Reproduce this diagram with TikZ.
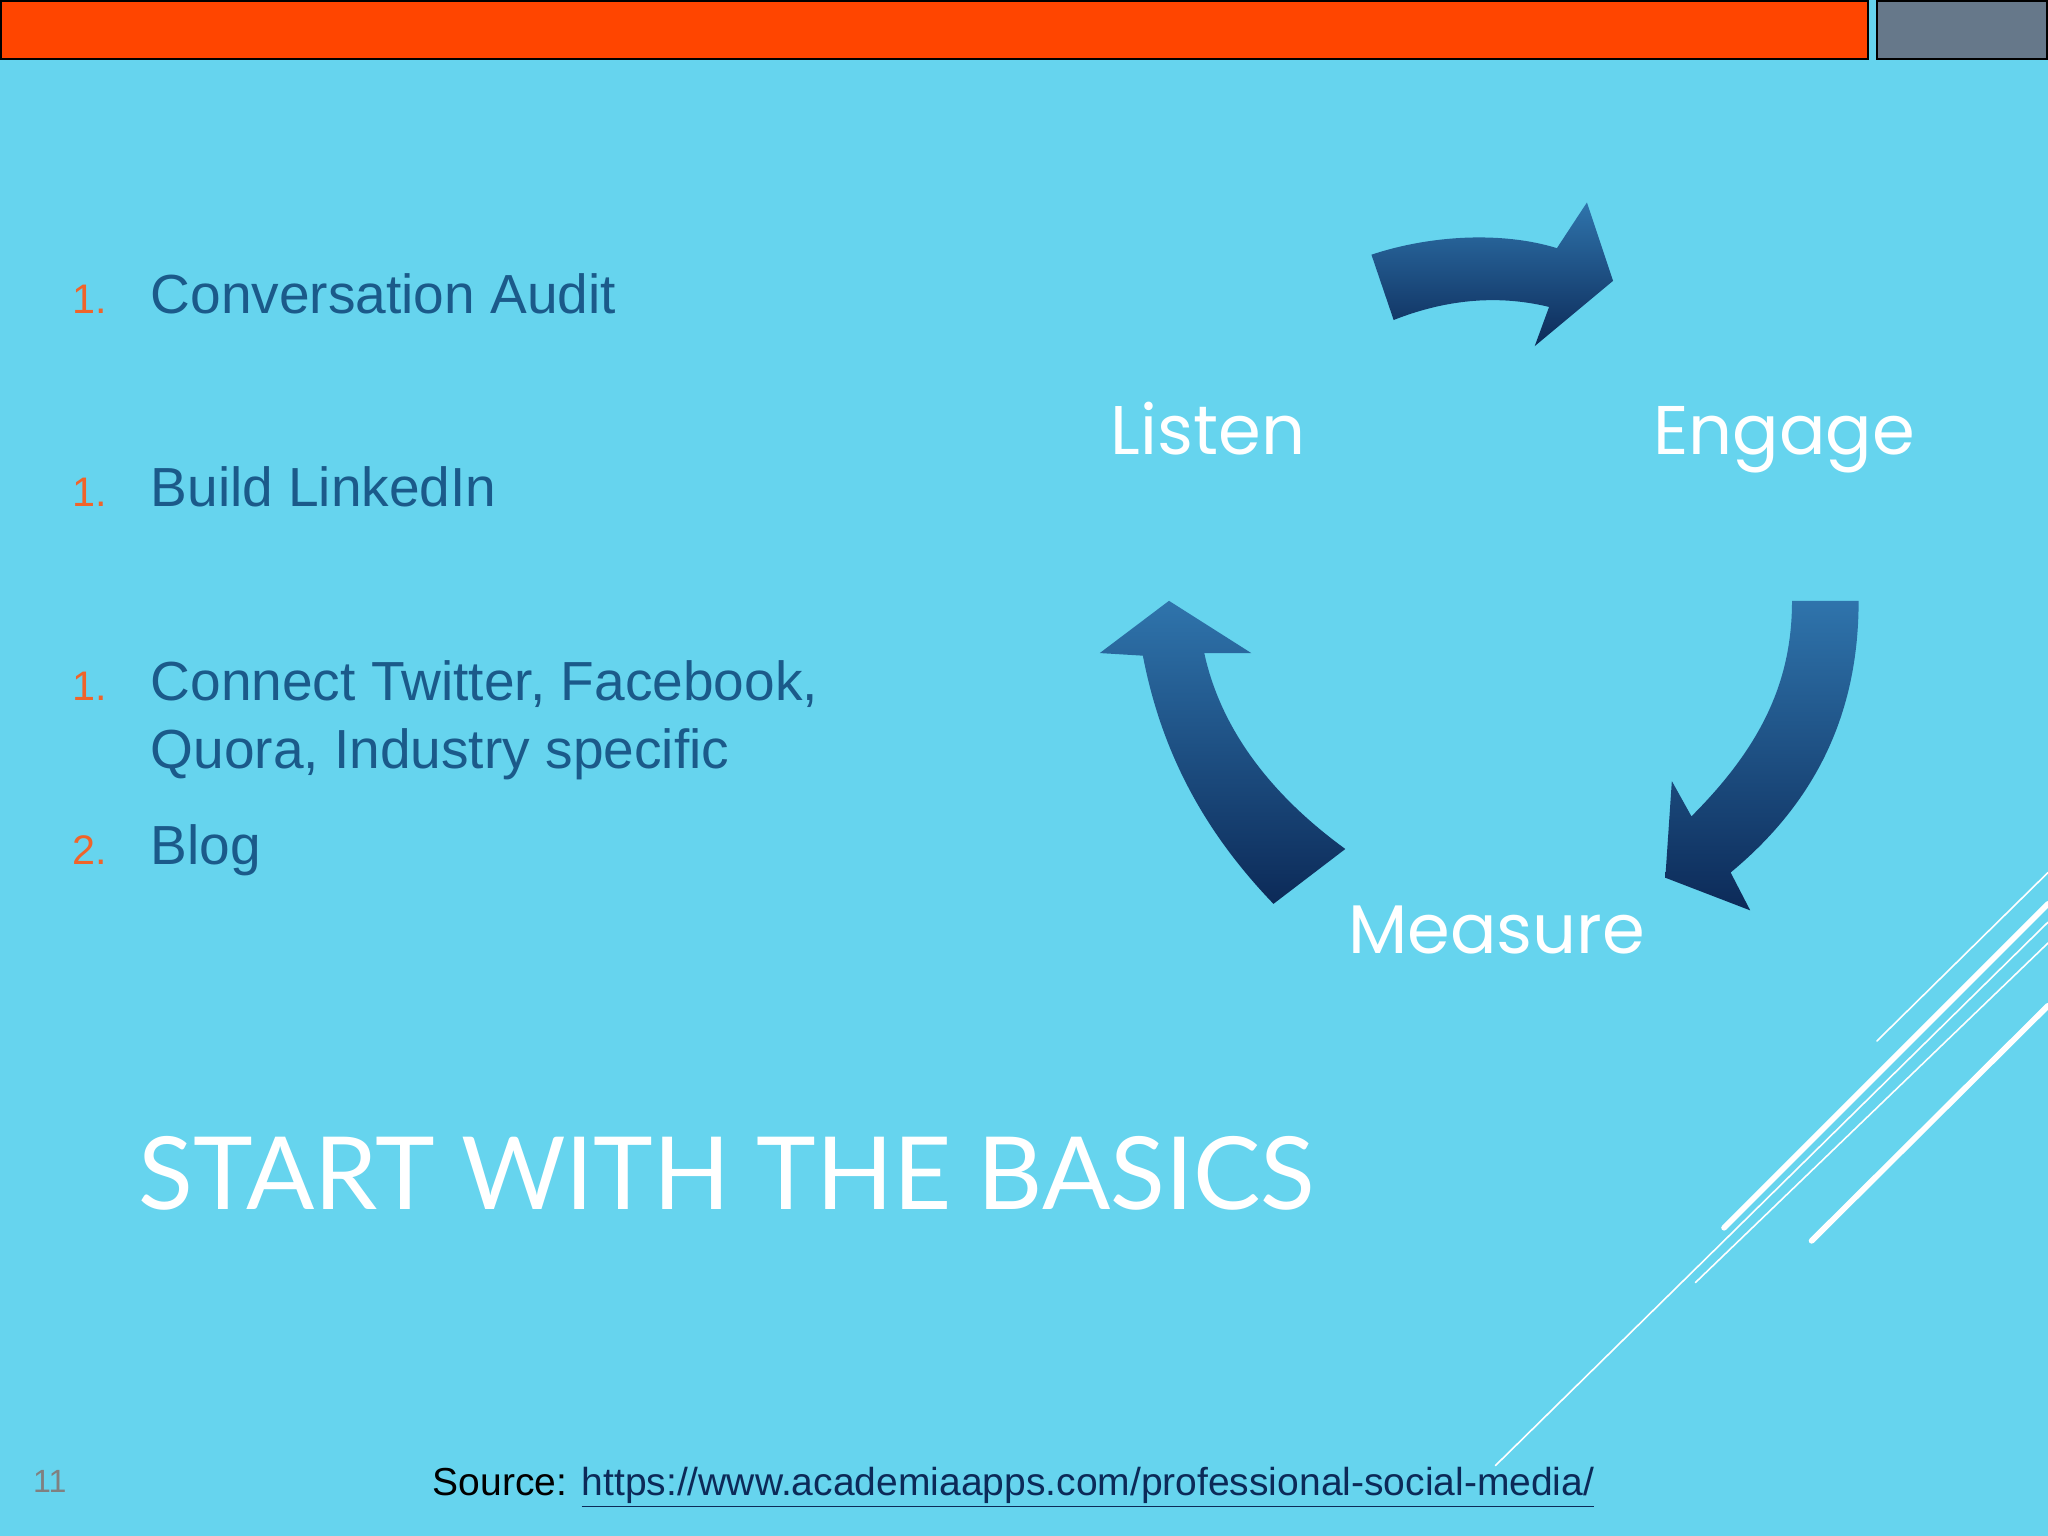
\documentclass[tikz,border=0pt]{standalone}
\usepackage{fontspec}
\setmainfont{Liberation Sans}
\newfontfamily\titlef{Lato}
\newfontfamily\cycf{Poppins}
\definecolor{bg}{HTML}{66D4EE}
\definecolor{orng}{HTML}{FF4500}
\definecolor{grayb}{HTML}{66788A}
\definecolor{txt}{HTML}{1B5A8A}
\definecolor{num}{HTML}{F0642A}
\definecolor{atop}{HTML}{2F74AC}
\definecolor{abot}{HTML}{0C2A58}
\tikzset{
  itm/.style={anchor=base west,text=txt,font=\fontsize{24}{30}\selectfont,inner sep=0},
  nm/.style={anchor=base west,text=num,font=\fontsize{18}{22}\selectfont,inner sep=0},
  cyc/.style={text=white,font=\cycf\fontsize{30}{36}\selectfont,inner sep=0,anchor=base},
  arr/.style={top color=atop,bottom color=abot,draw=none},
  wl/.style={draw=white,line cap=round}
}
\begin{document}
\begin{tikzpicture}[x=0.02cm,y=-0.02cm]
\fill[bg] (0,0) rectangle (1568,1176);
\useasboundingbox (0,0) rectangle (1568,1176);
\fill[orng,draw=black,line width=0.8pt] (1,1) rectangle (1430,45);
\fill[grayb,draw=black,line width=0.8pt] (1437,1) rectangle (1567,45);
% list
\node[nm] (n1) at (55,240) {1.};
\node[itm] (t1) at (115,240) {Conversation Audit};
\node[nm] (n2) at (55,388) {1.};
\node[itm] (t2) at (115,388) {Build LinkedIn};
\node[nm] (n3) at (55,536) {1.};
\node[itm] (t3) at (115,536) {Connect Twitter, Facebook,};
\node[itm] (t3b) at (115,588) {Quora, Industry specific};
\node[nm] (n4) at (55,662) {2.};
\node[itm] (t4) at (115,662) {Blog};
% cycle
\node[cyc] (listen) at (925,348) {Listen};
\node[cyc] (engage) at (1366,348) {Engage};
\node[cyc] (measure) at (1146,730) {Measure};
\path[arr] (1050,195) .. controls (1095,180) and (1150,177) .. (1192,190) -- (1215,155) -- (1235,215) -- (1175,265) -- (1186,235) .. controls (1145,225) and (1105,230) .. (1067,245) -- cycle;
\path[arr] (1372,460) .. controls (1372,520) and (1350,570) .. (1295,625) -- (1280,598) -- (1275,672) -- (1340,697) -- (1325,668) .. controls (1395,610) and (1423,540) .. (1423,460) -- cycle;
\path[arr] (1030,650) .. controls (975,610) and (935,560) .. (922,500) -- (958,500) -- (895,460) -- (842,500) -- (875,502) .. controls (890,580) and (925,640) .. (975,692) -- cycle;
% title
\node[anchor=base west,text=white,inner sep=0,font=\titlef\fontsize{44}{50}\selectfont] (title) at (106,926) {START WITH THE BASICS};
% decorative lines
\draw[wl,line width=2.5pt] (1320,940) -- (1568,692);
\draw[wl,line width=2.5pt] (1387,950) -- (1568,770);
\draw[wl,line width=0.7pt] (1298,982) -- (1568,722);
\draw[wl,line width=0.7pt] (1437,797) -- (1568,668);
\draw[wl,line width=0.7pt] (1145,1122) -- (1568,706);
% footer
\node[anchor=base west,text=gray,inner sep=0,font=\fontsize{14}{16}\selectfont] (pg) at (25,1143) {11};
\node[anchor=base west,inner sep=0,font=\fontsize{17}{20}\selectfont] (src) at (331,1145) {Source: {\color{abot}\underline{https://www.academiaapps.com/professional-social-media/}}};
\end{tikzpicture}
\end{document}
